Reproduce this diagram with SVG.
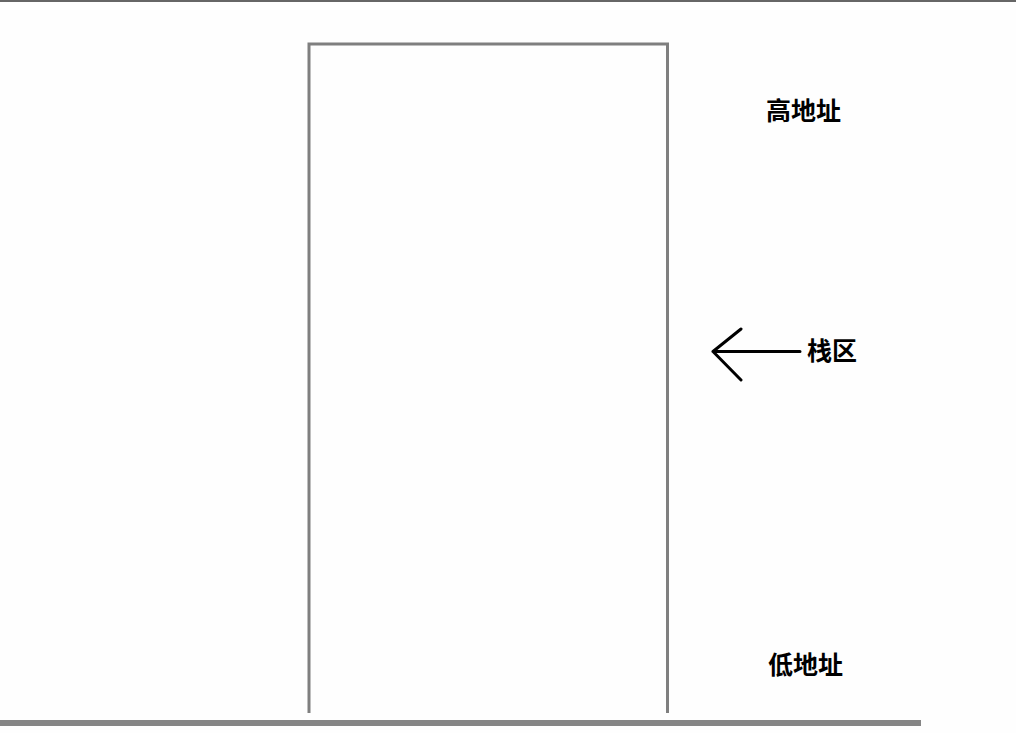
<svg xmlns="http://www.w3.org/2000/svg" width="1016" height="733" viewBox="0 0 1016 733">
<style>
.frame{fill:none;stroke:#7f7f7f;stroke-width:3}
.lbl{font-family:"Noto Sans CJK SC","Noto Sans",sans-serif;font-weight:bold;font-size:25px;fill:#000}
.arr{fill:none;stroke:#000;stroke-width:3;stroke-linecap:round;stroke-linejoin:round}
</style>
<rect width="1016" height="733" fill="#fefefe"/>
<line x1="0" y1="1" x2="1016" y2="1" stroke="#666" stroke-width="2"/>
<g id="stack-box">
<path class="frame" d="M309,713 V44 H667.5 V713"/>
</g>
<g id="baseline">
<rect x="0" y="720" width="921" height="6" fill="#858585"/>
</g>
<g id="high-addr"><text class="lbl" x="766" y="120">高地址</text></g>
<g id="low-addr"><text class="lbl" x="768" y="674">低地址</text></g>
<g id="stack-label"><text class="lbl" x="807" y="360">栈区</text></g>
<g id="connectors">
<path class="arr" d="M800,351.5 H713 M741,329 L713,351.5 L741,380"/>
</g>
</svg>
